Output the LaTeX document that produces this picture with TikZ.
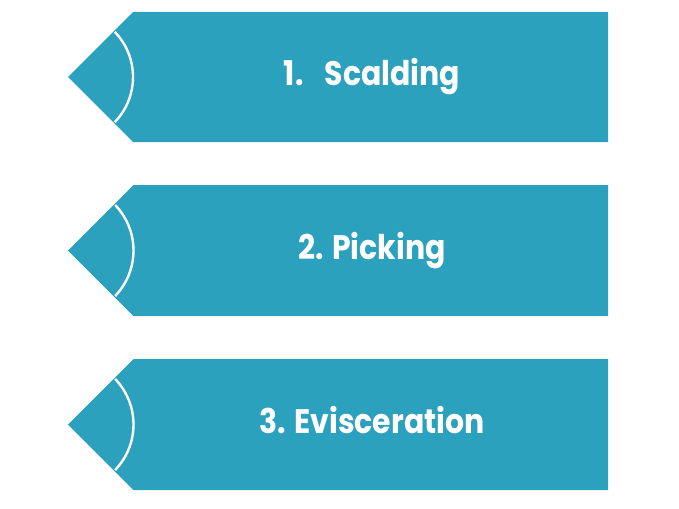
\documentclass[tikz,border=0pt]{standalone}
\usepackage{fontspec}
\usepackage{graphicx}
\setmainfont{Poppins}
\definecolor{teal}{RGB}{44,161,190}
\begin{document}
\begin{tikzpicture}[x=1pt,y=-1pt]
\tikzset{
  arrowshape/.style={fill=teal,draw=none},
  seam/.style={draw=white,line width=2.4pt},
  label/.style={text=white,font=\fontsize{34}{38}\selectfont\bfseries,anchor=base,inner sep=0pt}
}
\useasboundingbox (0,0) rectangle (679,508);
\foreach \t/\b/\name/\txt in {12/142/s1/{1.\hspace{0.72em}Scalding},185/316/s2/{2. Picking},359/490/s3/{3. Evisceration}}{
  \pgfmathsetmacro{\m}{(\t+\b)/2}
  \pgfmathsetmacro{\h}{(\b-\t)/2}
  \fill[arrowshape] (608,\t) -- (608,\b) -- ({68+\h},\b) -- (68,\m) -- ({68+\h},\t) -- cycle;
  \draw[seam] (68,\m) ++(-44:{\h}) arc[start angle=-44,end angle=44,radius=\h];
  \node[label] (\name) at (372,{\m+9}) {\scalebox{0.88}[1]{\txt}};
}
\end{tikzpicture}
\end{document}
